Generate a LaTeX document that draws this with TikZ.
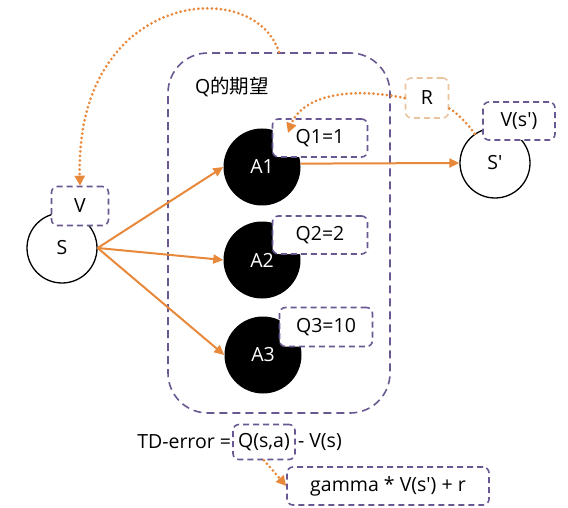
\documentclass[tikz,border=0pt]{standalone}
\usepackage{fontspec}
\setmainfont{Open Sans}
\newfontfamily\cjk{Noto Sans CJK SC}
\usepackage{tikz}
\usetikzlibrary{positioning}
\usetikzlibrary{arrows.meta}

\definecolor{qpurple}{RGB}{105,88,145}
\definecolor{arrorange}{RGB}{232,136,58}
\definecolor{rtan}{RGB}{234,196,158}

\tikzset{
  qbox/.style={draw=qpurple, line width=1.6pt, dash pattern=on 6pt off 4pt, rounded corners=6pt, fill=white, inner sep=0pt},
  state/.style={circle, draw, line width=1.3pt, minimum size=70pt, inner sep=0pt},
  action/.style={circle, fill=black, text=white, minimum size=77pt, inner sep=0pt},
  flow/.style={draw=arrorange, line width=2pt, -{Triangle[length=10pt,width=9pt]}},
  hint/.style={draw=arrorange, line width=3pt, dash pattern=on 0pt off 4.5pt, line cap=round, -{Triangle[length=10pt,width=10pt]}},
}

\begin{document}
\begin{tikzpicture}[x=1pt, y=-1pt, font=\fontsize{19.5}{23}\selectfont]
\useasboundingbox (0,0) rectangle (568,508);
\node[qbox, fill=none, minimum width=222pt, minimum height=360pt, rounded corners=40pt, dash pattern=on 8pt off 5pt] (qframe) at (279,233) {};
\node at (232,87) (qlabel) {Q\cjk 的期望};

\node[state] (s) at (62,248) {S};
\node[qbox, minimum width=57pt, minimum height=39pt] (v) at (80,206) {V};

\node[action] (a1) at (262,167) {A1};
\node[qbox, minimum width=95pt, minimum height=38pt] (q1) at (320,138) {Q1=1};
\node[action] (a2) at (262,260) {A2};
\node[qbox, minimum width=95pt, minimum height=38pt] (q2) at (320,235) {Q2=2};
\node[action] (a3) at (263,355) {A3};
\node[qbox, minimum width=93pt, minimum height=39pt] (q3) at (326,327) {Q3=10};

\node[state] (s2) at (495,163) {S\textquotesingle};
\node[qbox, minimum width=72pt, minimum height=38pt] (vs) at (519,121) {V(s\textquotesingle)};
\node[qbox, draw=rtan, minimum width=43pt, minimum height=40pt] (r) at (427,98) {R};

\draw[flow] (s.east) -- (a1.west);
\draw[flow] (s.east) -- (a2.west);
\draw[flow] (s.east) -- (a3.west);
\draw[flow] (a1.5) -- (s2.west);

\coordinate (q1tip) at (288,133);
\draw[hint] (qframe.north) .. controls (255,-25) and (75,-10) .. (v.north);
\draw[hint] (r.west) .. controls (340,85) and (300,100) .. (q1tip);
\draw[hint, -] (s2.125) .. controls (465,120) and (455,112) .. (r.-25);

\node[qbox, fill=none, minimum width=62pt, minimum height=35pt] (qsa) at (264,442) {Q(s,a)};
\node[anchor=east, inner sep=0pt] (td) at ([xshift=-1pt]qsa.west) {TD-error =};
\node[anchor=west, inner sep=0pt] (vsub) at ([xshift=2pt]qsa.east) {- V(s)};
\node[qbox, minimum width=202pt, minimum height=38pt] (gam) at (388,486) {gamma * V(s\textquotesingle) + r};
\draw[hint] (qsa.south) -- (gam.west);
\end{tikzpicture}
\end{document}
